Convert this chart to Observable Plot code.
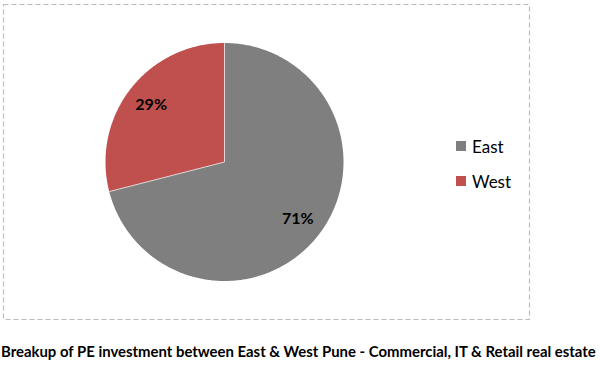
<!DOCTYPE html>
<html>
<head>
<meta charset="utf-8">
<script src="https://cdn.jsdelivr.net/npm/d3@7"></script>
<script src="https://cdn.jsdelivr.net/npm/@observablehq/plot@0.6"></script>
<style>
  html, body { margin: 0; padding: 0; background: #fff; }
  body { width: 600px; height: 368px; position: relative; overflow: hidden; font-family: Lato, "Open Sans", sans-serif; }
  #frame { position: absolute; left: 0; top: 0; }
  #chart { position: absolute; left: 0; top: 0; }
  #legend { position: absolute; left: 456px; top: 136px; }
  .item { display: flex; align-items: center; height: 20px; margin-bottom: 15px; font-size: 17px; color: #000; }
  .sw { width: 10px; height: 10px; margin-right: 6px; }
  #caption { position: absolute; left: 1px; top: 342px; width: 600px; text-align: left; font-weight: bold; font-size: 14.9px; color: #000; white-space: nowrap; }
</style>
</head>
<body>
<svg id="frame" width="600" height="368"><rect x="3.5" y="4.5" width="526" height="315" fill="none" stroke="#bdbdbd" stroke-width="1.2" stroke-dasharray="5,3"/></svg>
<div id="chart"></div>
<div id="legend"></div>
<div id="caption"></div>
<script>
const categories = ["East", "West"];
const values = [71, 29];
const labels = ["71%", "29%"];
const colors = ["#7f7f7f", "#c0504d"];
const captionText = "Breakup of PE investment between East & West Pune - Commercial, IT & Retail real estate";

const arcs = d3.pie().sort(null).value(d => d.value)(categories.map((c, i) => ({name: c, value: values[i], label: labels[i]})));

// polygon vertices for each slice (unit circle, y up)
const pts = [];
for (const a of arcs) {
  const n = Math.max(2, Math.ceil((a.endAngle - a.startAngle) / 0.01));
  pts.push({name: a.data.name, x: 0, y: 0});
  for (let k = 0; k <= n; k++) {
    const t = a.startAngle + (a.endAngle - a.startAngle) * k / n;
    pts.push({name: a.data.name, x: Math.sin(t), y: Math.cos(t)});
  }
}
const seps = arcs.map(a => ({x1: 0, y1: 0, x2: Math.sin(a.startAngle), y2: Math.cos(a.startAngle)}));
const lab = arcs.map(a => {
  const m = (a.startAngle + a.endAngle) / 2, r = 0.78;
  return {label: a.data.label, x: r * Math.sin(m), y: r * Math.cos(m)};
});

const cx = 224, cy = 161.5, R = 119;
const chart = Plot.plot({
  width: 600, height: 368,
  margin: 0,
  x: {domain: [-1, 1], range: [cx - R, cx + R], axis: null},
  y: {domain: [-1, 1], range: [cy + R, cy - R], axis: null},
  color: {domain: categories, range: colors},
  style: {background: "transparent", overflow: "visible"},
  marks: [
    Plot.line(pts, {x: "x", y: "y", z: "name", fill: "name", stroke: null}),
    Plot.link(seps, {x1: "x1", y1: "y1", x2: "x2", y2: "y2", stroke: "#e8e8e8", strokeWidth: 0.8}),
    Plot.text(lab, {x: "x", y: "y", text: "label", fontSize: 16, fontWeight: "bold", fill: "#000", fontFamily: "Lato, sans-serif"})
  ]
});
document.getElementById("chart").appendChild(chart);

const legend = document.getElementById("legend");
categories.forEach((c, i) => {
  const d = document.createElement("div");
  d.className = "item";
  d.innerHTML = `<div class="sw" style="background:${colors[i]}"></div><span>${c}</span>`;
  legend.appendChild(d);
});
document.getElementById("caption").textContent = captionText;
</script>
</body>
</html>
